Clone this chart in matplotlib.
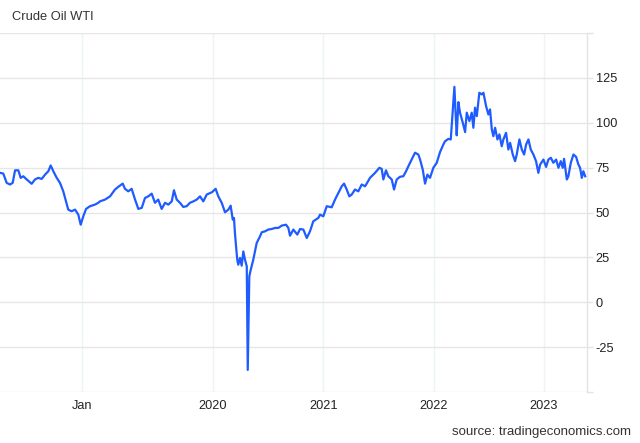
import numpy as np
import matplotlib
matplotlib.use("Agg")
import matplotlib.pyplot as plt

# ---- data (decimal year, price USD/bbl) ----
years = [
    2018.374, 2018.399, 2018.425, 2018.450, 2018.471, 2018.489, 2018.514, 2018.532,
    2018.552, 2018.578, 2018.616, 2018.641, 2018.666, 2018.692, 2018.718, 2018.743,
    2018.761, 2018.781, 2018.807, 2018.832, 2018.857, 2018.878, 2018.895, 2018.921,
    2018.947, 2018.972, 2018.990, 2019.010, 2019.031, 2019.061, 2019.099, 2019.124,
    2019.137, 2019.176, 2019.214, 2019.252, 2019.277, 2019.311, 2019.328, 2019.353,
    2019.379, 2019.405, 2019.430, 2019.456, 2019.481, 2019.506, 2019.532, 2019.557,
    2019.582, 2019.608, 2019.634, 2019.659, 2019.685, 2019.702, 2019.723, 2019.748,
    2019.773, 2019.799, 2019.824, 2019.850, 2019.876, 2019.901, 2019.926, 2019.952,
    2019.992, 2020.024, 2020.048, 2020.079, 2020.109, 2020.139, 2020.160, 2020.179,
    2020.190, 2020.199, 2020.209, 2020.220, 2020.229, 2020.245, 2020.260, 2020.275,
    2020.290, 2020.306, 2020.315, 2020.329, 2020.342, 2020.365, 2020.396, 2020.426,
    2020.442, 2020.471, 2020.501, 2020.532, 2020.562, 2020.592, 2020.623, 2020.662,
    2020.683, 2020.698, 2020.728, 2020.764, 2020.789, 2020.819, 2020.850, 2020.879,
    2020.909, 2020.955, 2020.970, 2021.000, 2021.031, 2021.076, 2021.106, 2021.136,
    2021.167, 2021.188, 2021.212, 2021.236, 2021.257, 2021.287, 2021.317, 2021.348,
    2021.378, 2021.393, 2021.423, 2021.469, 2021.508, 2021.529, 2021.544, 2021.568,
    2021.589, 2021.620, 2021.641, 2021.665, 2021.695, 2021.725, 2021.750, 2021.771,
    2021.801, 2021.831, 2021.861, 2021.877, 2021.901, 2021.922, 2021.943, 2021.967,
    2021.997, 2022.028, 2022.058, 2022.088, 2022.103, 2022.133, 2022.155, 2022.173,
    2022.188, 2022.200, 2022.209, 2022.224, 2022.239, 2022.264, 2022.285, 2022.300,
    2022.324, 2022.345, 2022.360, 2022.375, 2022.391, 2022.414, 2022.436, 2022.451,
    2022.475, 2022.496, 2022.511, 2022.527, 2022.541, 2022.557, 2022.578, 2022.596,
    2022.617, 2022.632, 2022.656, 2022.677, 2022.693, 2022.717, 2022.738, 2022.753,
    2022.777, 2022.799, 2022.820, 2022.838, 2022.859, 2022.880, 2022.904, 2022.928,
    2022.949, 2022.965, 2022.995, 2023.019, 2023.040, 2023.062, 2023.085, 2023.110,
    2023.131, 2023.152, 2023.170, 2023.182, 2023.207, 2023.221, 2023.243, 2023.267,
    2023.291, 2023.312, 2023.327, 2023.343, 2023.357, 2023.373,
]
prices = [
    72.1, 71.7, 66.5, 65.6, 66.5, 73.5, 73.5, 69.3,
    70.2, 68.4, 66.0, 68.4, 69.3, 68.7, 71.1, 73.0,
    76.2, 73.0, 69.3, 66.5, 61.8, 56.2, 51.6, 50.7,
    51.6, 48.8, 43.2, 47.9, 52.0, 53.5, 54.4, 55.4,
    56.2, 57.2, 59.0, 62.8, 64.3, 66.1, 63.2, 61.8,
    63.2, 57.2, 52.0, 52.6, 58.1, 59.0, 60.5, 55.4,
    57.2, 52.0, 55.4, 54.4, 56.2, 62.4, 57.2, 55.4,
    53.1, 53.5, 55.4, 56.2, 57.2, 59.0, 56.2, 60.0,
    61.3, 63.2, 59.0, 55.4, 50.1, 51.6, 53.8, 46.0,
    47.0, 38.6, 31.1, 23.7, 20.9, 24.7, 20.4, 28.3,
    23.7, 20.0, -37.7, 14.4, 18.1, 23.7, 33.0, 36.7,
    39.0, 39.5, 40.5, 40.8, 41.4, 41.4, 42.7, 43.2,
    41.4, 37.1, 40.5, 37.7, 40.8, 40.5, 35.8, 39.5,
    45.1, 47.0, 48.8, 47.9, 53.5, 52.9, 57.2, 60.9,
    64.6, 66.1, 62.8, 59.0, 60.0, 62.8, 61.8, 65.6,
    64.6, 66.1, 69.3, 72.1, 74.9, 74.3, 68.4, 73.5,
    70.2, 68.4, 62.8, 68.4, 69.9, 70.2, 73.0, 75.8,
    79.5, 83.3, 82.3, 79.5, 73.9, 66.1, 71.1, 69.3,
    74.9, 77.7, 83.7, 87.9, 89.7, 91.0, 90.7, 106.5,
    120.0, 103.7, 93.0, 111.5, 105.6, 100.0, 94.8, 105.6,
    100.9, 105.6, 97.2, 108.4, 103.7, 116.7, 115.8, 116.7,
    109.3, 104.6, 107.4, 96.3, 92.5, 97.2, 90.7, 93.5,
    86.9, 90.7, 94.4, 85.1, 88.8, 82.3, 78.6, 82.3,
    90.7, 85.1, 82.3, 87.9, 90.7, 85.1, 82.3, 78.6,
    72.1, 76.7, 79.5, 75.4, 79.5, 80.5, 77.7, 79.5,
    74.9, 78.6, 74.9, 79.9, 68.4, 70.2, 77.7, 82.3,
    81.0, 76.7, 74.9, 69.3, 73.0, 70.2,
]
tick_years = [2019, 2020, 2021, 2022, 2023]
tick_labels = ["Jan", "2020", "2021", "2022", "2023"]
y_ticks = [-50, -25, 0, 25, 50, 75, 100, 125, 150]
y_labels = ["", "-25", "0", "25", "50", "75", "100", "125", ""]

title = "Crude Oil WTI"
source = "source: tradingeconomics.com"

# time axis: the chart gives 2019 more room than later years
_anchor_years = np.array([2017.0, 2019.0, 2020.0, 2024.0])
_anchor_pos = np.array([-2 * 131.0 + 82, 82.0, 213.0, 213.0 + 4 * 110.33])


def fwd(x):
    x = np.asarray(x, dtype=float)
    return np.interp(x, _anchor_years, _anchor_pos, left=np.nan, right=np.nan)


def inv(p):
    p = np.asarray(p, dtype=float)
    return np.interp(p, _anchor_pos, _anchor_years)


plt.rcParams["font.family"] = ["Liberation Sans", "DejaVu Sans"]

fig = plt.figure(figsize=(6.4, 4.43), dpi=100)
ax = fig.add_axes([0.0, 1 - 392 / 443, 587.3 / 640, (392 - 33) / 443])

ax.set_xscale("function", functions=(fwd, inv))
ax.plot(years, prices, color="#1f5cff", lw=1.6, solid_joinstyle="round", zorder=3)

ax.set_xlim(inv(0.0), inv(587.3))
ax.set_ylim(-50, 150)

ax.set_xticks(tick_years)
ax.set_xticklabels(tick_labels)
ax.set_yticks(y_ticks)
ax.set_yticklabels(y_labels)

ax.yaxis.tick_right()
ax.tick_params(axis="y", which="both", length=4, width=1, color="#e3e3e3",
               labelsize=9.2, labelcolor="#222222", pad=2)
ax.tick_params(axis="x", which="both", length=0, labelsize=9.2,
               labelcolor="#222222", pad=6)
ax.minorticks_off()

ax.grid(axis="y", color="#e6e6e6", lw=1.0, zorder=0)
ax.grid(axis="x", color="#eef3f6", lw=1.0, zorder=0)

for s in ["left", "bottom", "top"]:
    ax.spines[s].set_visible(False)
ax.spines["right"].set_color("#e3e3e3")
ax.spines["right"].set_linewidth(1.0)

fig.text(12 / 640, 1 - 17 / 443, title, fontsize=9.3, color="#333333",
         ha="left", va="center")
fig.text(631 / 640, 1 - 432 / 443, source, fontsize=9.5, color="#333333",
         ha="right", va="center")

fig.savefig("out.png", dpi=100, facecolor="white")
